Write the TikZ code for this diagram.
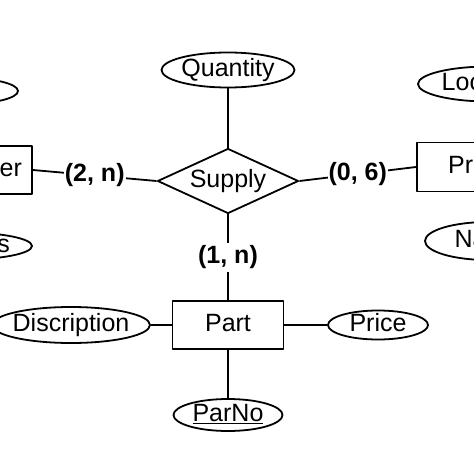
\documentclass[tikz,border=0pt]{standalone}
\usepackage{fontspec}
\setmainfont{Liberation Sans}
\usetikzlibrary{shapes.geometric}
\begin{document}
\begin{tikzpicture}[x=1pt, y=-1pt, line width=1.8pt, line join=round,
	font=\fontsize{25}{30}\selectfont,
	entity/.style={draw, rectangle, inner sep=0pt, minimum height=48pt, text height=18pt, text depth=5pt},
	relation/.style={draw, diamond, aspect=2.17, inner sep=0pt, minimum width=141pt, minimum height=65pt, text height=18pt, text depth=5pt},
	attr/.style={draw, ellipse, inner xsep=-4pt, inner ysep=-2pt, text height=18pt, text depth=5pt},
	card/.style={fill=white, inner xsep=1pt, inner ysep=3pt, font=\bfseries\fontsize{25}{30}\selectfont}]
	\useasboundingbox (0,0) rectangle (474,474);
	\clip (0,0) rectangle (474,474);
	% relationship and entities
	\node[relation] (supply) at (228,181) {Supply};
	\node[entity, minimum width=112pt] (supplier) at (-24,170) {Supplier};
	\node[entity, minimum width=140pt, minimum height=49pt] (project) at (487,167) {Project};
	\node[entity, minimum width=111pt] (part) at (228,325) {Part};
	% attributes
	\node[attr, minimum width=133pt, minimum height=35pt] (quantity) at (228,70) {Quantity};
	\node[attr, minimum width=158pt, minimum height=36pt] (discription) at (71,325) {Discription};
	\node[attr, minimum width=100pt, minimum height=29pt] (price) at (378,325) {Price};
	\node[attr, minimum width=109pt, minimum height=32pt] (parno) at (228,415) {\underline{ParNo}};
	\node[attr, minimum width=116pt, minimum height=25pt] (supno) at (-40,91) {};
	\node[attr, minimum width=136pt, minimum height=27pt] (address) at (-36,246) {Address};
	\node[attr, minimum width=142pt, minimum height=35pt] (location) at (489,84) {Location};
	\node[attr, minimum width=126pt, minimum height=38pt] (name) at (488,241) {Name};
	% connectors
	\draw (quantity) -- (supply);
	\draw (supplier.east) -- node[card] {(2, n)} (supply.west);
	\draw (supply.east) -- node[card] {(0, 6)} (project.west);
	\draw (supply) -- node[card] {(1, n)} (part);
	\draw (discription) -- (part);
	\draw (part) -- (price);
	\draw (part) -- (parno);
\end{tikzpicture}
\end{document}
